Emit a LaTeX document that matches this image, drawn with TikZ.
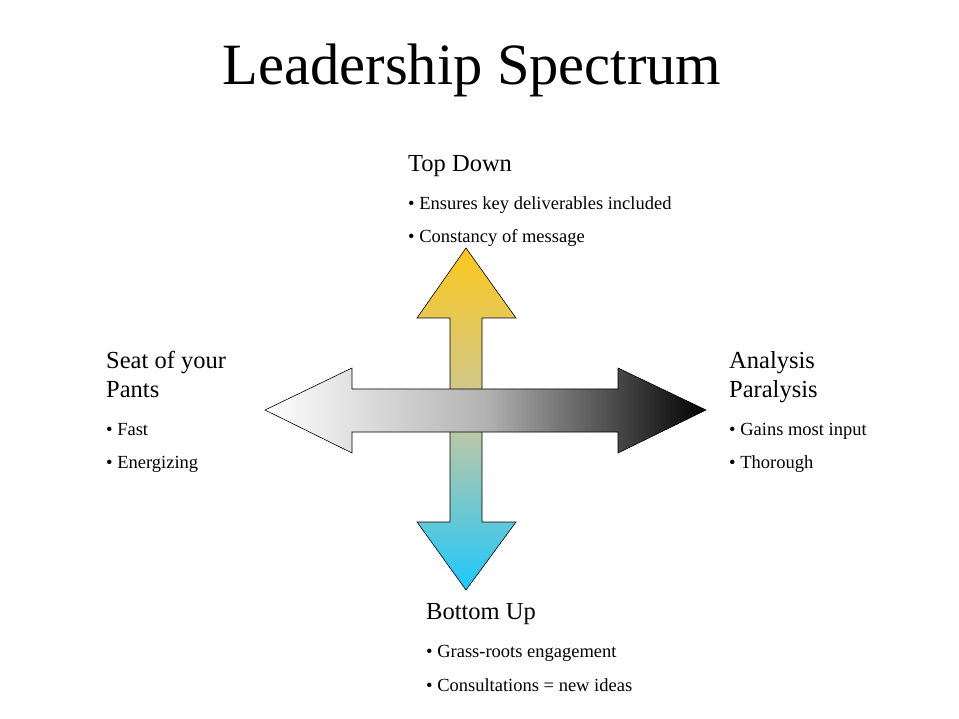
\documentclass[tikz,border=0pt]{standalone}
\usepackage{fontspec}
\setmainfont{Liberation Serif}
\usetikzlibrary{positioning}
\tikzset{
  head/.style={font=\fontsize{24.5}{29}\selectfont, anchor=north west, inner sep=0pt, align=left,
    execute at end node=\strut},
  item/.style={font=\fontsize{18.5}{20}\selectfont, inner sep=0pt, text height=13pt, text depth=4pt,
    below=16pt of #1.south west, anchor=north west}
}
\begin{document}
\begin{tikzpicture}[x=1pt,y=-1pt]
  \useasboundingbox[fill=white] (0,0) rectangle (959,719);
  \node[font=\fontsize{58.5}{62}\selectfont] (title) at (472,70) {Leadership Spectrum};

  % vertical arrow
  \shade[top color={rgb,255:red,252;green,200;blue,30}, bottom color={rgb,255:red,30;green,200;blue,252},
         middle color={rgb,255:red,200;green,200;blue,160}, draw=black, line width=0.6pt]
    (466,248) -- (516,318) -- (482,318) -- (482,522) -- (516,522) -- (466,590)
    -- (417,522) -- (450,522) -- (450,318) -- (417,318) -- cycle;
  % horizontal arrow
  \shade[left color=white, right color=black, middle color=gray!60, draw=black, line width=0.6pt]
    (265,410) -- (352,368) -- (352,389) -- (618,389) -- (618,368) -- (706,410)
    -- (618,453) -- (618,432) -- (352,432) -- (352,453) -- cycle;

  \node[head] (top) at (408,151) {Top Down};
  \node[item=top] (top1) {\textbullet\ Ensures key deliverables included};
  \node[item=top1] (top2) {\textbullet\ Constancy of message};

  \node[head] (left) at (106,351) {Seat of your\\Pants};
  \node[item=left] (left1) {\textbullet\ Fast};
  \node[item=left1] (left2) {\textbullet\ Energizing};

  \node[head] (right) at (729,351) {Analysis\\Paralysis};
  \node[item=right] (right1) {\textbullet\ Gains most input};
  \node[item=right1] (right2) {\textbullet\ Thorough};

  \node[head] (bot) at (426,599) {Bottom Up};
  \node[item=bot] (bot1) {\textbullet\ Grass-roots engagement};
  \node[item=bot1] (bot2) {\textbullet\ Consultations = new ideas};
\end{tikzpicture}
\end{document}
